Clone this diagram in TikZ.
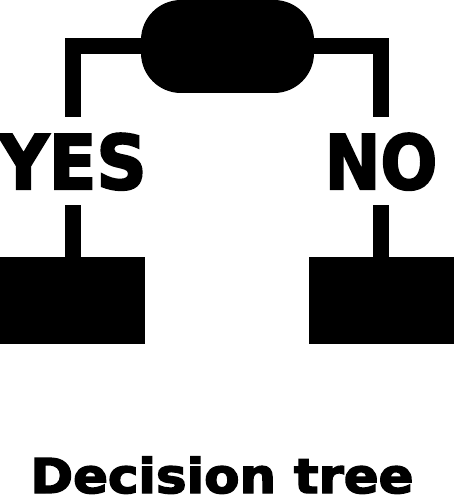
\documentclass[tikz,border=0pt]{standalone}
\usepackage{fontspec}
\setmainfont{DejaVu Sans}
\newfontfamily\heavyfont{DejaVu Sans Bold}[FakeBold=3]
\usepackage{tikz}
\usetikzlibrary{calc}

\begin{document}
\begin{tikzpicture}[x=1pt, y=-1pt,
		link/.style={line width=16pt, line join=miter, line cap=butt},
		leaf/.style={fill=black, minimum width=145pt, minimum height=87pt, inner sep=0pt},
		answer/.style={font=\heavyfont\fontsize{75}{75}\selectfont, inner sep=0pt, anchor=base}]
			\useasboundingbox (0, 0) rectangle (454, 500);
			\node[fill=black, rounded corners=40pt, minimum width=173pt, minimum height=93pt, inner sep=0pt] (root) at (227.5, 46.5) {};

			\node[answer, xscale=0.93] (yes) at (72.5, 189) {YES};
			\node[answer, xscale=0.89] (no) at (381, 189) {NO};

			\node[leaf] (leafyes) at (72.5, 300.5) {};
			\node[leaf] (leafno) at (381.5, 300.5) {};

			\draw[link, shorten >=16pt](root.west)-|(yes.north);
			\draw[link, shorten >=16pt](root.east)-|(no.north);
			\draw[link, shorten <=15pt](yes.south)--(yes.south |- leafyes.north);
			\draw[link, shorten <=15pt](no.south)--(no.south |- leafno.north);

			\node[font=\heavyfont\fontsize{48}{48}\selectfont, inner sep=0pt, anchor=base, xscale=1.07] (title) at (222, 493) {Decision tree};
		\end{tikzpicture}
\end{document}
